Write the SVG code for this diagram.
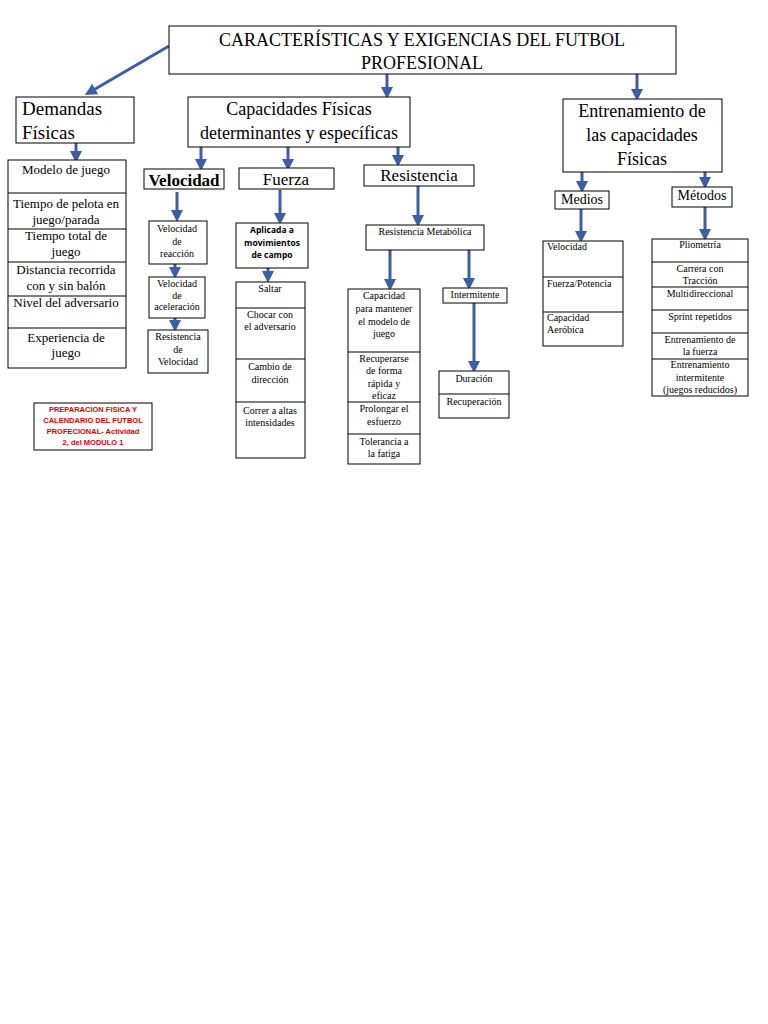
<svg xmlns="http://www.w3.org/2000/svg" width="768" height="1024" viewBox="0 0 768 1024">
<defs><marker id="ah" markerWidth="4" markerHeight="4" refX="2" refY="2" orient="auto" markerUnits="strokeWidth"><path d="M0,0 L4,2 L0,4 z" fill="#3a5ea8"/></marker></defs>
<style>
rect{fill:#fff;stroke:#000;stroke-width:1}
line.d{stroke:#000;stroke-width:1}
text{font-family:"Liberation Serif",serif;fill:#000;text-anchor:middle}
.s{font-size:10px}.m{font-size:13px}.l{font-size:18px}
#conn line{stroke:#3a5ea8;stroke-width:3;marker-end:url(#ah)}
</style>
<rect width="768" height="1024" style="stroke:none"/>
<g id="conn">
<line x1="169" y1="46" x2="90" y2="92"/>
<line x1="387" y1="74" x2="387" y2="93"/>
<line x1="637" y1="74" x2="637" y2="95"/>
<line x1="76" y1="143" x2="76" y2="157"/>
<line x1="201" y1="147" x2="201" y2="165"/>
<line x1="288" y1="147" x2="288" y2="165"/>
<line x1="398" y1="147" x2="398" y2="161"/>
<line x1="177" y1="192" x2="177" y2="216"/>
<line x1="175" y1="264" x2="175" y2="273"/>
<line x1="175" y1="318" x2="175" y2="326"/>
<line x1="280" y1="190" x2="280" y2="219"/>
<line x1="268" y1="268" x2="268" y2="277"/>
<line x1="418" y1="186" x2="418" y2="221"/>
<line x1="390" y1="250" x2="390" y2="285"/>
<line x1="469" y1="250" x2="469" y2="284"/>
<line x1="474" y1="303" x2="474" y2="367"/>
<line x1="582" y1="172" x2="582" y2="187"/>
<line x1="705" y1="172" x2="705" y2="183"/>
<line x1="581" y1="209" x2="581" y2="237"/>
<line x1="705" y1="207" x2="705" y2="235"/>
</g>
<g id="title"><rect x="169" y="26" width="507" height="48"/><text x="422" y="46" font-size="18">CARACTERÍSTICAS Y EXIGENCIAS DEL FUTBOL</text><text x="422" y="69" font-size="18">PROFESIONAL</text></g>
<g id="demandas"><rect x="16" y="97" width="118" height="46"/><text x="22" y="115" font-size="19" style="text-anchor:start">Demandas</text><text x="22" y="139" font-size="19" style="text-anchor:start">Físicas</text></g>
<g id="capacidades"><rect x="188" y="97" width="222" height="50"/><text x="299" y="115" class="l">Capacidades Físicas</text><text x="299" y="139" class="l">determinantes y específicas</text></g>
<g id="entrenamiento"><rect x="563" y="99" width="159" height="73"/><text x="642" y="117" class="l">Entrenamiento de</text><text x="642" y="141" class="l">las capacidades</text><text x="642" y="165" class="l">Físicas</text></g>
<g id="demandas-list"><rect x="8" y="160" width="118" height="208"/>
<line class="d" x1="8" y1="193" x2="126" y2="193"/><line class="d" x1="8" y1="229" x2="126" y2="229"/><line class="d" x1="8" y1="262" x2="126" y2="262"/><line class="d" x1="8" y1="296" x2="126" y2="296"/><line class="d" x1="8" y1="328" x2="126" y2="328"/>
<text x="66" y="174" class="m">Modelo de juego</text>
<text x="66" y="208" class="m">Tiempo de pelota en</text><text x="66" y="224" class="m">juego/parada</text>
<text x="66" y="240" class="m">Tiempo total de</text><text x="66" y="256" class="m">juego</text>
<text x="66" y="274" class="m">Distancia recorrida</text><text x="66" y="290" class="m">con y sin balón</text>
<text x="66" y="307" class="m">Nivel del adversario</text>
<text x="66" y="342" class="m">Experiencia de</text><text x="66" y="357" class="m">juego</text></g>
<g id="velocidad"><rect x="144" y="169" width="80" height="20"/><text x="184" y="186" font-size="17" font-weight="bold">Velocidad</text></g>
<g id="fuerza"><rect x="239" y="168" width="95" height="21"/><text x="286" y="185" font-size="17">Fuerza</text></g>
<g id="resistencia"><rect x="364" y="165" width="110" height="21"/><text x="419" y="181" font-size="17">Resistencia</text></g>
<g id="vel-reaccion"><rect x="149" y="221" width="58" height="43"/><text x="177" y="232" class="s">Velocidad</text><text x="177" y="245" class="s">de</text><text x="177" y="257" class="s">reacción</text></g>
<g id="vel-aceleracion"><rect x="149" y="277" width="56" height="41"/><text x="177" y="287" class="s">Velocidad</text><text x="177" y="299" class="s">de</text><text x="177" y="310" class="s">aceleración</text></g>
<g id="res-velocidad"><rect x="148" y="330" width="60" height="43"/><text x="178" y="340" class="s">Resistencia</text><text x="178" y="353" class="s">de</text><text x="178" y="365" class="s">Velocidad</text></g>
<g id="aplicada"><rect x="236" y="223" width="72" height="45"/><g style="font-family:'Open Sans',sans-serif;font-size:8.5px;font-weight:bold"><text x="272" y="233" style="font-family:'Open Sans',sans-serif">Aplicada a</text><text x="272" y="246" style="font-family:'Open Sans',sans-serif">movimientos</text><text x="272" y="258" style="font-family:'Open Sans',sans-serif">de campo</text></g></g>
<g id="fuerza-list"><rect x="236" y="282" width="69" height="176"/>
<line class="d" x1="236" y1="308" x2="305" y2="308"/><line class="d" x1="236" y1="359" x2="305" y2="359"/><line class="d" x1="236" y1="402" x2="305" y2="402"/>
<text x="270" y="292" class="s">Saltar</text><text x="270" y="318" class="s">Chocar con</text><text x="270" y="330" class="s">el adversario</text>
<text x="270" y="370" class="s">Cambio de</text><text x="270" y="383" class="s">dirección</text>
<text x="270" y="414" class="s">Correr a altas</text><text x="270" y="426" class="s">intensidades</text></g>
<g id="res-metabolica"><rect x="366" y="225" width="118" height="25"/><text x="425" y="235" class="s">Resistencia Metabólica</text></g>
<g id="res-list"><rect x="348" y="289" width="72" height="175"/>
<line class="d" x1="348" y1="352" x2="420" y2="352"/><line class="d" x1="348" y1="402" x2="420" y2="402"/><line class="d" x1="348" y1="434" x2="420" y2="434"/>
<text x="384" y="299" class="s">Capacidad</text><text x="384" y="312" class="s">para mantener</text><text x="384" y="325" class="s">el modelo de</text><text x="384" y="337" class="s">juego</text>
<text x="384" y="362" class="s">Recuperarse</text><text x="384" y="374" class="s">de forma</text><text x="384" y="387" class="s">rápida y</text><text x="384" y="399" class="s">eficaz</text>
<text x="384" y="412" class="s">Prolongar el</text><text x="384" y="425" class="s">esfuerzo</text>
<text x="384" y="445" class="s">Tolerancia a</text><text x="384" y="457" class="s">la fatiga</text></g>
<g id="intermitente"><rect x="443" y="288" width="64" height="15"/><text x="475" y="298" class="s">Intermitente</text></g>
<g id="duracion"><rect x="439" y="371" width="70" height="47"/><line class="d" x1="439" y1="394" x2="509" y2="394"/><text x="474" y="382" class="s">Duración</text><text x="474" y="405" class="s">Recuperación</text></g>
<g id="medios"><rect x="555" y="191" width="54" height="18"/><text x="582" y="204" font-size="14">Medios</text></g>
<g id="metodos"><rect x="672" y="187" width="60" height="20"/><text x="702" y="200" font-size="14">Métodos</text></g>
<g id="medios-list"><rect x="543" y="241" width="80" height="105"/><line class="d" x1="543" y1="277" x2="623" y2="277"/><line class="d" x1="543" y1="312" x2="623" y2="312"/>
<g style="text-anchor:start"><text x="547" y="250" class="s" style="text-anchor:start">Velocidad</text><text x="547" y="287" class="s" style="text-anchor:start">Fuerza/Potencia</text><text x="547" y="321" class="s" style="text-anchor:start">Capacidad</text><text x="547" y="333" class="s" style="text-anchor:start">Aeróbica</text></g></g>
<g id="metodos-list"><rect x="652" y="239" width="96" height="157"/>
<line class="d" x1="652" y1="262" x2="748" y2="262"/><line class="d" x1="652" y1="287" x2="748" y2="287"/><line class="d" x1="652" y1="310" x2="748" y2="310"/><line class="d" x1="652" y1="333" x2="748" y2="333"/><line class="d" x1="652" y1="359" x2="748" y2="359"/>
<text x="700" y="248" class="s">Pliometría</text><text x="700" y="272" class="s">Carrera con</text><text x="700" y="284" class="s">Tracción</text><text x="700" y="297" class="s">Multidireccional</text><text x="700" y="320" class="s">Sprint repetidos</text><text x="700" y="343" class="s">Entrenamiento de</text><text x="700" y="355" class="s">la fuerza</text><text x="700" y="368" class="s">Entrenamiento</text><text x="700" y="381" class="s">intermitente</text><text x="700" y="393" class="s">(juegos reducidos)</text></g>
<g id="nota"><rect x="34" y="403" width="118" height="47"/>
<text x="93" y="412" style="font-family:'Liberation Sans',sans-serif;font-size:7.5px;font-weight:bold;fill:#e00000">PREPARACION FISICA Y</text>
<text x="93" y="423" style="font-family:'Liberation Sans',sans-serif;font-size:7.5px;font-weight:bold;fill:#e00000">CALENDARIO DEL FUTBOL</text>
<text x="93" y="434" style="font-family:'Liberation Sans',sans-serif;font-size:7.5px;font-weight:bold;fill:#e00000">PROFECIONAL- Actividad</text>
<text x="93" y="445" style="font-family:'Liberation Sans',sans-serif;font-size:7.5px;font-weight:bold;fill:#e00000">2, del MODULO 1</text></g>
</svg>
